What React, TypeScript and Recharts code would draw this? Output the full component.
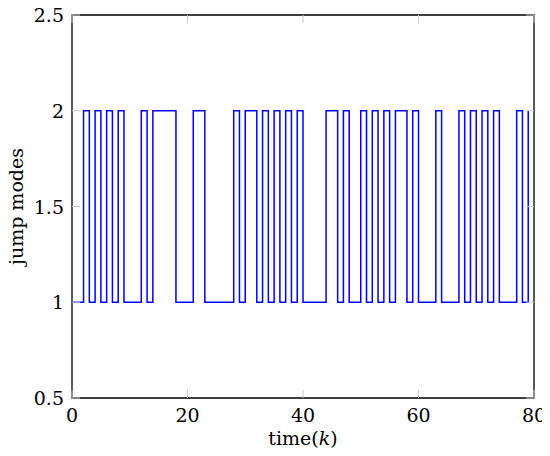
import React from "react";
import {
  LineChart,
  Line,
  XAxis,
  YAxis,
  ReferenceArea,
} from "recharts";

// jump mode at each time step k = 0..79
const steps = Array.from({ length: 80 }, (_, i) => i);
const modes = [
  1, 1, 2, 1, 2, 1, 2, 1, 2, 1,
  1, 1, 2, 1, 2, 2, 2, 2, 1, 1,
  1, 2, 2, 1, 1, 1, 1, 1, 2, 1,
  2, 2, 1, 2, 1, 2, 1, 2, 1, 2,
  1, 1, 1, 1, 2, 2, 1, 2, 1, 1,
  2, 1, 2, 1, 2, 1, 2, 2, 1, 2,
  1, 1, 1, 2, 1, 1, 1, 2, 1, 2,
  1, 2, 1, 2, 1, 1, 1, 2, 1, 2,
];
const xTicks = [0, 20, 40, 60, 80];
const yTicks = [0.5, 1, 1.5, 2, 2.5];

const data = steps.map((k, i) => ({ k, mode: modes[i] }));

const W = 540;
const H = 440;
const XH = 30;
const M = { top: 7, right: 14, bottom: 50 - XH, left: 0 };
const YW = 64;
const LEFT = M.left + YW;
const RIGHT = W - M.right;
const TOP = M.top;
const BOTTOM = H - M.bottom - XH;
const TICK = 8;
const FONT = "'DejaVu Serif', serif";
const FS = 19;

const XTick = (props: any) => {
  const { x, payload } = props;
  return (
    <g>
      <line x1={x} x2={x} y1={BOTTOM} y2={BOTTOM - TICK} stroke="#c8c8c8" />
      <line x1={x} x2={x} y1={TOP} y2={TOP + TICK} stroke="#c8c8c8" />
      <text x={x} y={BOTTOM + 24} textAnchor="middle" fontFamily={FONT} fontSize={FS} fill="#000">
        {payload.value}
      </text>
    </g>
  );
};

const YTick = (props: any) => {
  const { y, payload } = props;
  return (
    <g>
      <line x1={LEFT} x2={LEFT + TICK} y1={y} y2={y} stroke="#c8c8c8" />
      <line x1={RIGHT} x2={RIGHT - TICK} y1={y} y2={y} stroke="#c8c8c8" />
      <text x={LEFT - 8} y={y + 7} textAnchor="end" fontFamily={FONT} fontSize={FS} fill="#000">
        {payload.value}
      </text>
    </g>
  );
};

export default function App() {
  return (
    <div style={{ width: W, height: H }}>
      <LineChart width={W} height={H} data={data} margin={M}>
        <XAxis
          dataKey="k"
          type="number"
          height={XH}
          domain={[0, 80]}
          ticks={xTicks}
          tickLine={false}
          axisLine={false}
          tick={<XTick />}
          interval={0}
          label={{
            content: () => (
              <text x={(LEFT + RIGHT) / 2} y={BOTTOM + 47} textAnchor="middle" fontFamily={FONT} fontSize={FS} fill="#000">
                time(<tspan fontStyle="italic">k</tspan>)
              </text>
            ),
          }}
        />
        <YAxis
          width={YW}
          type="number"
          domain={[0.5, 2.5]}
          ticks={yTicks}
          tickLine={false}
          axisLine={false}
          tick={<YTick />}
          interval={0}
          label={{
            content: () => (
              <text
                x={0}
                y={0}
                transform={`translate(${15}, ${(TOP + BOTTOM) / 2}) rotate(-90)`}
                textAnchor="middle"
                fontFamily={FONT}
                fontSize={FS}
                fill="#000"
              >
                jump modes
              </text>
            ),
          }}
        />
        <Line
          dataKey="mode"
          type="stepAfter"
          stroke="#0000ff"
          strokeWidth={1.5}
          dot={false}
          isAnimationActive={false}
        />
        <ReferenceArea x1={0} x2={80} y1={0.5} y2={2.5} fill="none" stroke="#000" strokeWidth={1.3} />
      </LineChart>
    </div>
  );
}
